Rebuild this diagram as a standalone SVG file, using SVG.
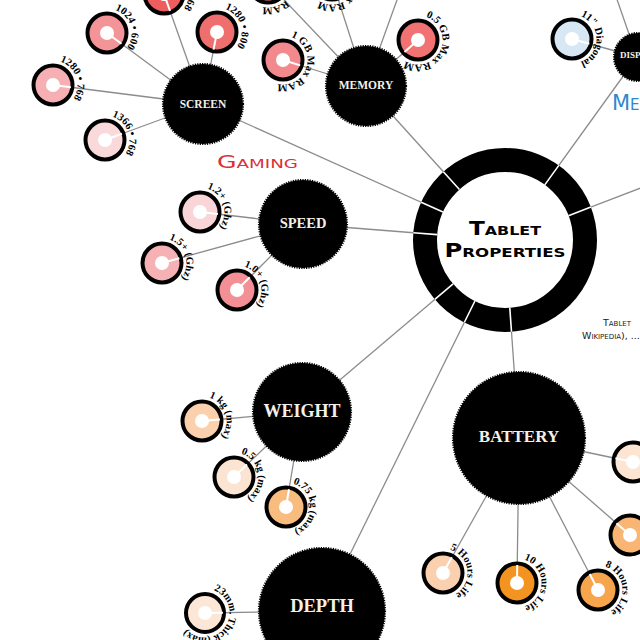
<svg xmlns="http://www.w3.org/2000/svg" width="640" height="640" viewBox="0 0 640 640">
<style>
.c{stroke:#8c8c8c;stroke-width:1.3;fill:none}
.hub{fill:#000;stroke:#000;stroke-width:2.2;stroke-dasharray:1.2 1.2}
.ht{font-family:"Liberation Serif",serif;font-weight:bold;fill:#f4f0e8;text-anchor:middle}
.sat{stroke:#000;stroke-width:4}
.dot{fill:#fff}
.wl{stroke:#fff;stroke-width:2;stroke-dasharray:18 3000}
.lbl{font-family:"Liberation Serif",serif;font-size:10.5px;font-weight:bold;fill:#000}
.rl{stroke:#fff;stroke-width:1.6;stroke-dasharray:0 68 24 3000}
.cap{font-family:"DejaVu Sans",sans-serif;font-variant:small-caps}
</style>
<defs><path id="arc" d="M0,-24.5A24.5,24.5 0 1,1 0,24.5A24.5,24.5 0 1,1 0,-24.5"/></defs>
<rect width="640" height="640" fill="#fff"/>
<g id="connectors">
<line class="c" x1="505" y1="240" x2="203" y2="104"/>
<line class="c" x1="505" y1="240" x2="366" y2="86"/>
<line class="c" x1="505" y1="240" x2="637" y2="57"/>
<line class="c" x1="505" y1="240" x2="303" y2="224"/>
<line class="c" x1="505" y1="240" x2="302" y2="412"/>
<line class="c" x1="505" y1="240" x2="322" y2="611"/>
<line class="c" x1="505" y1="240" x2="519" y2="438"/>
<line class="c" x1="505" y1="240" x2="680" y2="173"/>
<line class="c" x1="203" y1="104" x2="164" y2="-6"/>
<line class="c" x1="203" y1="104" x2="107" y2="33"/>
<line class="c" x1="203" y1="104" x2="217" y2="32"/>
<line class="c" x1="203" y1="104" x2="53" y2="85"/>
<line class="c" x1="203" y1="104" x2="105" y2="140"/>
<line class="c" x1="366" y1="86" x2="268" y2="-17"/>
<line class="c" x1="366" y1="86" x2="332" y2="-20"/>
<line class="c" x1="366" y1="86" x2="283" y2="60"/>
<line class="c" x1="366" y1="86" x2="418" y2="40"/>
<line class="c" x1="366" y1="86" x2="406" y2="-25"/>
<line class="c" x1="637" y1="57" x2="572" y2="39"/>
<line class="c" x1="637" y1="57" x2="612" y2="-15"/>
<line class="c" x1="303" y1="224" x2="200" y2="212"/>
<line class="c" x1="303" y1="224" x2="162" y2="263"/>
<line class="c" x1="303" y1="224" x2="237" y2="290"/>
<line class="c" x1="302" y1="412" x2="202" y2="421"/>
<line class="c" x1="302" y1="412" x2="234" y2="477"/>
<line class="c" x1="302" y1="412" x2="286" y2="507"/>
<line class="c" x1="519" y1="438" x2="633" y2="462"/>
<line class="c" x1="519" y1="438" x2="630" y2="535"/>
<line class="c" x1="519" y1="438" x2="598" y2="590"/>
<line class="c" x1="519" y1="438" x2="517" y2="583"/>
<line class="c" x1="519" y1="438" x2="443" y2="573"/>
<line class="c" x1="322" y1="611" x2="205" y2="613"/>
</g>
<g id="center">
<circle cx="505" cy="240" r="80" fill="#fff" stroke="#000" stroke-width="24"/>
<line class="rl" x1="505" y1="240" x2="203" y2="104"/>
<line class="rl" x1="505" y1="240" x2="366" y2="86"/>
<line class="rl" x1="505" y1="240" x2="637" y2="57"/>
<line class="rl" x1="505" y1="240" x2="303" y2="224"/>
<line class="rl" x1="505" y1="240" x2="302" y2="412"/>
<line class="rl" x1="505" y1="240" x2="322" y2="611"/>
<line class="rl" x1="505" y1="240" x2="519" y2="438"/>
<line class="rl" x1="505" y1="240" x2="680" y2="173"/>
<text class="cap" x="505" y="235" font-size="19" font-weight="bold" text-anchor="middle" textLength="72" lengthAdjust="spacingAndGlyphs">Tablet</text>
<text class="cap" x="505" y="257" font-size="19" font-weight="bold" text-anchor="middle" textLength="121" lengthAdjust="spacingAndGlyphs">Properties</text>
</g>
<g id="hub-screen"><circle class="hub" cx="203" cy="104" r="40"/><text class="ht" x="203" y="108" font-size="11.5">SCREEN</text></g>
<g id="hub-memory"><circle class="hub" cx="366" cy="86" r="40"/><text class="ht" x="366" y="89" font-size="11.5">MEMORY</text></g>
<g id="hub-display"><circle class="hub" cx="638" cy="57" r="24"/><text class="ht" x="620" y="58" font-size="9" style="text-anchor:start">DISPLAY</text></g>
<g id="hub-speed"><circle class="hub" cx="303" cy="224" r="44"/><text class="ht" x="303" y="228" font-size="14.5">SPEED</text></g>
<g id="hub-weight"><circle class="hub" cx="302" cy="412" r="49"/><text class="ht" x="302" y="417" font-size="18">WEIGHT</text></g>
<g id="hub-battery"><circle class="hub" cx="519" cy="438" r="66"/><text class="ht" x="519" y="442" font-size="17">BATTERY</text></g>
<g id="hub-depth"><circle class="hub" cx="322" cy="611" r="63"/><text class="ht" x="322" y="612" font-size="18.5">DEPTH</text></g>

<g id="s-1024x768" transform="translate(164,-6)"><circle class="sat" r="19.5" fill="#ee5d5d"/><line class="wl" x2="39" y2="110"/><circle class="dot" r="7"/><text class="lbl"><textPath href="#arc" startOffset="8">1024 • 768</textPath></text></g>
<g id="s-1024x600" transform="translate(107,33)"><circle class="sat" r="19.5" fill="#f39598"/><line class="wl" x2="96" y2="71"/><circle class="dot" r="7"/><text class="lbl"><textPath href="#arc" startOffset="8">1024 • 600</textPath></text></g>
<g id="s-1280x800" transform="translate(217,32)"><circle class="sat" r="19.5" fill="#ef6f6f"/><line class="wl" x2="-14" y2="72"/><circle class="dot" r="7"/><text class="lbl"><textPath href="#arc" startOffset="8">1280 • 800</textPath></text></g>
<g id="s-1280x768" transform="translate(53,85)"><circle class="sat" r="19.5" fill="#f6b0b3"/><line class="wl" x2="150" y2="19"/><circle class="dot" r="7"/><text class="lbl"><textPath href="#arc" startOffset="7">1280 • 768</textPath></text></g>
<g id="s-1366x768" transform="translate(105,140)"><circle class="sat" r="19.5" fill="#fad9db"/><line class="wl" x2="98" y2="-36"/><circle class="dot" r="7"/><text class="lbl"><textPath href="#arc" startOffset="7">1366 • 768</textPath></text></g>

<g id="s-2gb" transform="translate(268,-17)"><circle class="sat" r="19.5" fill="#f07a7a"/><line class="wl" x2="98" y2="103"/><circle class="dot" r="7"/><text class="lbl"><textPath href="#arc" startOffset="8">2 GB Max RAM</textPath></text></g>
<g id="s-1-5gb" transform="translate(332,-20)"><circle class="sat" r="19.5" fill="#f07a7a"/><line class="wl" x2="34" y2="106"/><circle class="dot" r="7"/><text class="lbl"><textPath href="#arc" startOffset="8">1.5 GB Max RAM</textPath></text></g>
<g id="s-1gb" transform="translate(283,60)"><circle class="sat" r="19.5" fill="#f28a8d"/><line class="wl" x2="83" y2="26"/><circle class="dot" r="7"/><text class="lbl"><textPath href="#arc" startOffset="8">1 GB Max RAM</textPath></text></g>
<g id="s-05gb" transform="translate(418,40)"><circle class="sat" r="19.5" fill="#f07272"/><line class="wl" x2="-52" y2="46"/><circle class="dot" r="7"/><text class="lbl"><textPath href="#arc" startOffset="8">0.5 GB Max RAM</textPath></text></g>

<g id="s-11in" transform="translate(572,39)"><circle class="sat" r="19.5" fill="#d8e7f4"/><line class="wl" x2="65" y2="18"/><circle class="dot" r="7"/><text class="lbl"><textPath href="#arc" startOffset="9">11" Diagonal</textPath></text></g>

<g id="s-12ghz" transform="translate(200,212)"><circle class="sat" r="19.5" fill="#fad5d8"/><line class="wl" x2="103" y2="12"/><circle class="dot" r="7"/><text class="lbl"><textPath href="#arc" startOffset="7">1.2+ (Ghz)</textPath></text></g>
<g id="s-15ghz" transform="translate(162,263)"><circle class="sat" r="19.5" fill="#f6b1b5"/><line class="wl" x2="141" y2="-39"/><circle class="dot" r="7"/><text class="lbl"><textPath href="#arc" startOffset="7">1.5+ (Ghz)</textPath></text></g>
<g id="s-10ghz" transform="translate(237,290)"><circle class="sat" r="19.5" fill="#f29095"/><line class="wl" x2="66" y2="-66"/><circle class="dot" r="7"/><text class="lbl"><textPath href="#arc" startOffset="7">1.0+ (Ghz)</textPath></text></g>

<g id="s-1kg" transform="translate(202,421)"><circle class="sat" r="19.5" fill="#fad1ac"/><line class="wl" x2="100" y2="-9"/><circle class="dot" r="7"/><text class="lbl"><textPath href="#arc" startOffset="7">1 kg (max)</textPath></text></g>
<g id="s-05kg" transform="translate(234,477)"><circle class="sat" r="19.5" fill="#fce4d2"/><line class="wl" x2="68" y2="-65"/><circle class="dot" r="7"/><text class="lbl"><textPath href="#arc" startOffset="7">0.5 kg (max)</textPath></text></g>
<g id="s-075kg" transform="translate(286,507)"><circle class="sat" r="19.5" fill="#f8bc7f"/><line class="wl" x2="16" y2="-95"/><circle class="dot" r="7"/><text class="lbl"><textPath href="#arc" startOffset="7">0.75 kg (max)</textPath></text></g>

<g id="s-bat-a" transform="translate(633,462)"><circle class="sat" r="19.5" fill="#fce5d3"/><line class="wl" x2="-114" y2="-24"/><circle class="dot" r="7"/></g>
<g id="s-bat-b" transform="translate(630,535)"><circle class="sat" r="19.5" fill="#f8b574"/><line class="wl" x2="-111" y2="-97"/><circle class="dot" r="7"/></g>
<g id="s-8h" transform="translate(598,590)"><circle class="sat" r="19.5" fill="#f7a54c"/><line class="wl" x2="-79" y2="-152"/><circle class="dot" r="7"/><text class="lbl"><textPath href="#arc" startOffset="7">8 Hours Life</textPath></text></g>
<g id="s-10h" transform="translate(517,583)"><circle class="sat" r="19.5" fill="#f39320"/><line class="wl" x2="2" y2="-145"/><circle class="dot" r="7"/><text class="lbl"><textPath href="#arc" startOffset="7">10 Hours Life</textPath></text></g>
<g id="s-5h" transform="translate(443,573)"><circle class="sat" r="19.5" fill="#fad0ae"/><line class="wl" x2="76" y2="-135"/><circle class="dot" r="7"/><text class="lbl"><textPath href="#arc" startOffset="7">5 Hours Life</textPath></text></g>

<g id="s-23mm" transform="translate(205,613)"><circle class="sat" r="19" fill="#fce6d6"/><line class="wl" x2="117" y2="-2"/><circle class="dot" r="7"/><text class="lbl"><textPath href="#arc" startOffset="9">23mm. Thick (max)</textPath></text></g>

<g id="labels">
<text class="cap" x="217" y="168" font-size="18" fill="#dc3035" textLength="81" lengthAdjust="spacingAndGlyphs">Gaming</text>
<text class="cap" x="612" y="110" font-size="21" fill="#2f87cf">Media</text>
<text class="cap" x="603" y="326" font-size="9.5" fill="#222">Tablet</text>
<text class="cap" x="582" y="339" font-size="9.5" fill="#222">Wikipedia), ...</text>
</g>
</svg>
